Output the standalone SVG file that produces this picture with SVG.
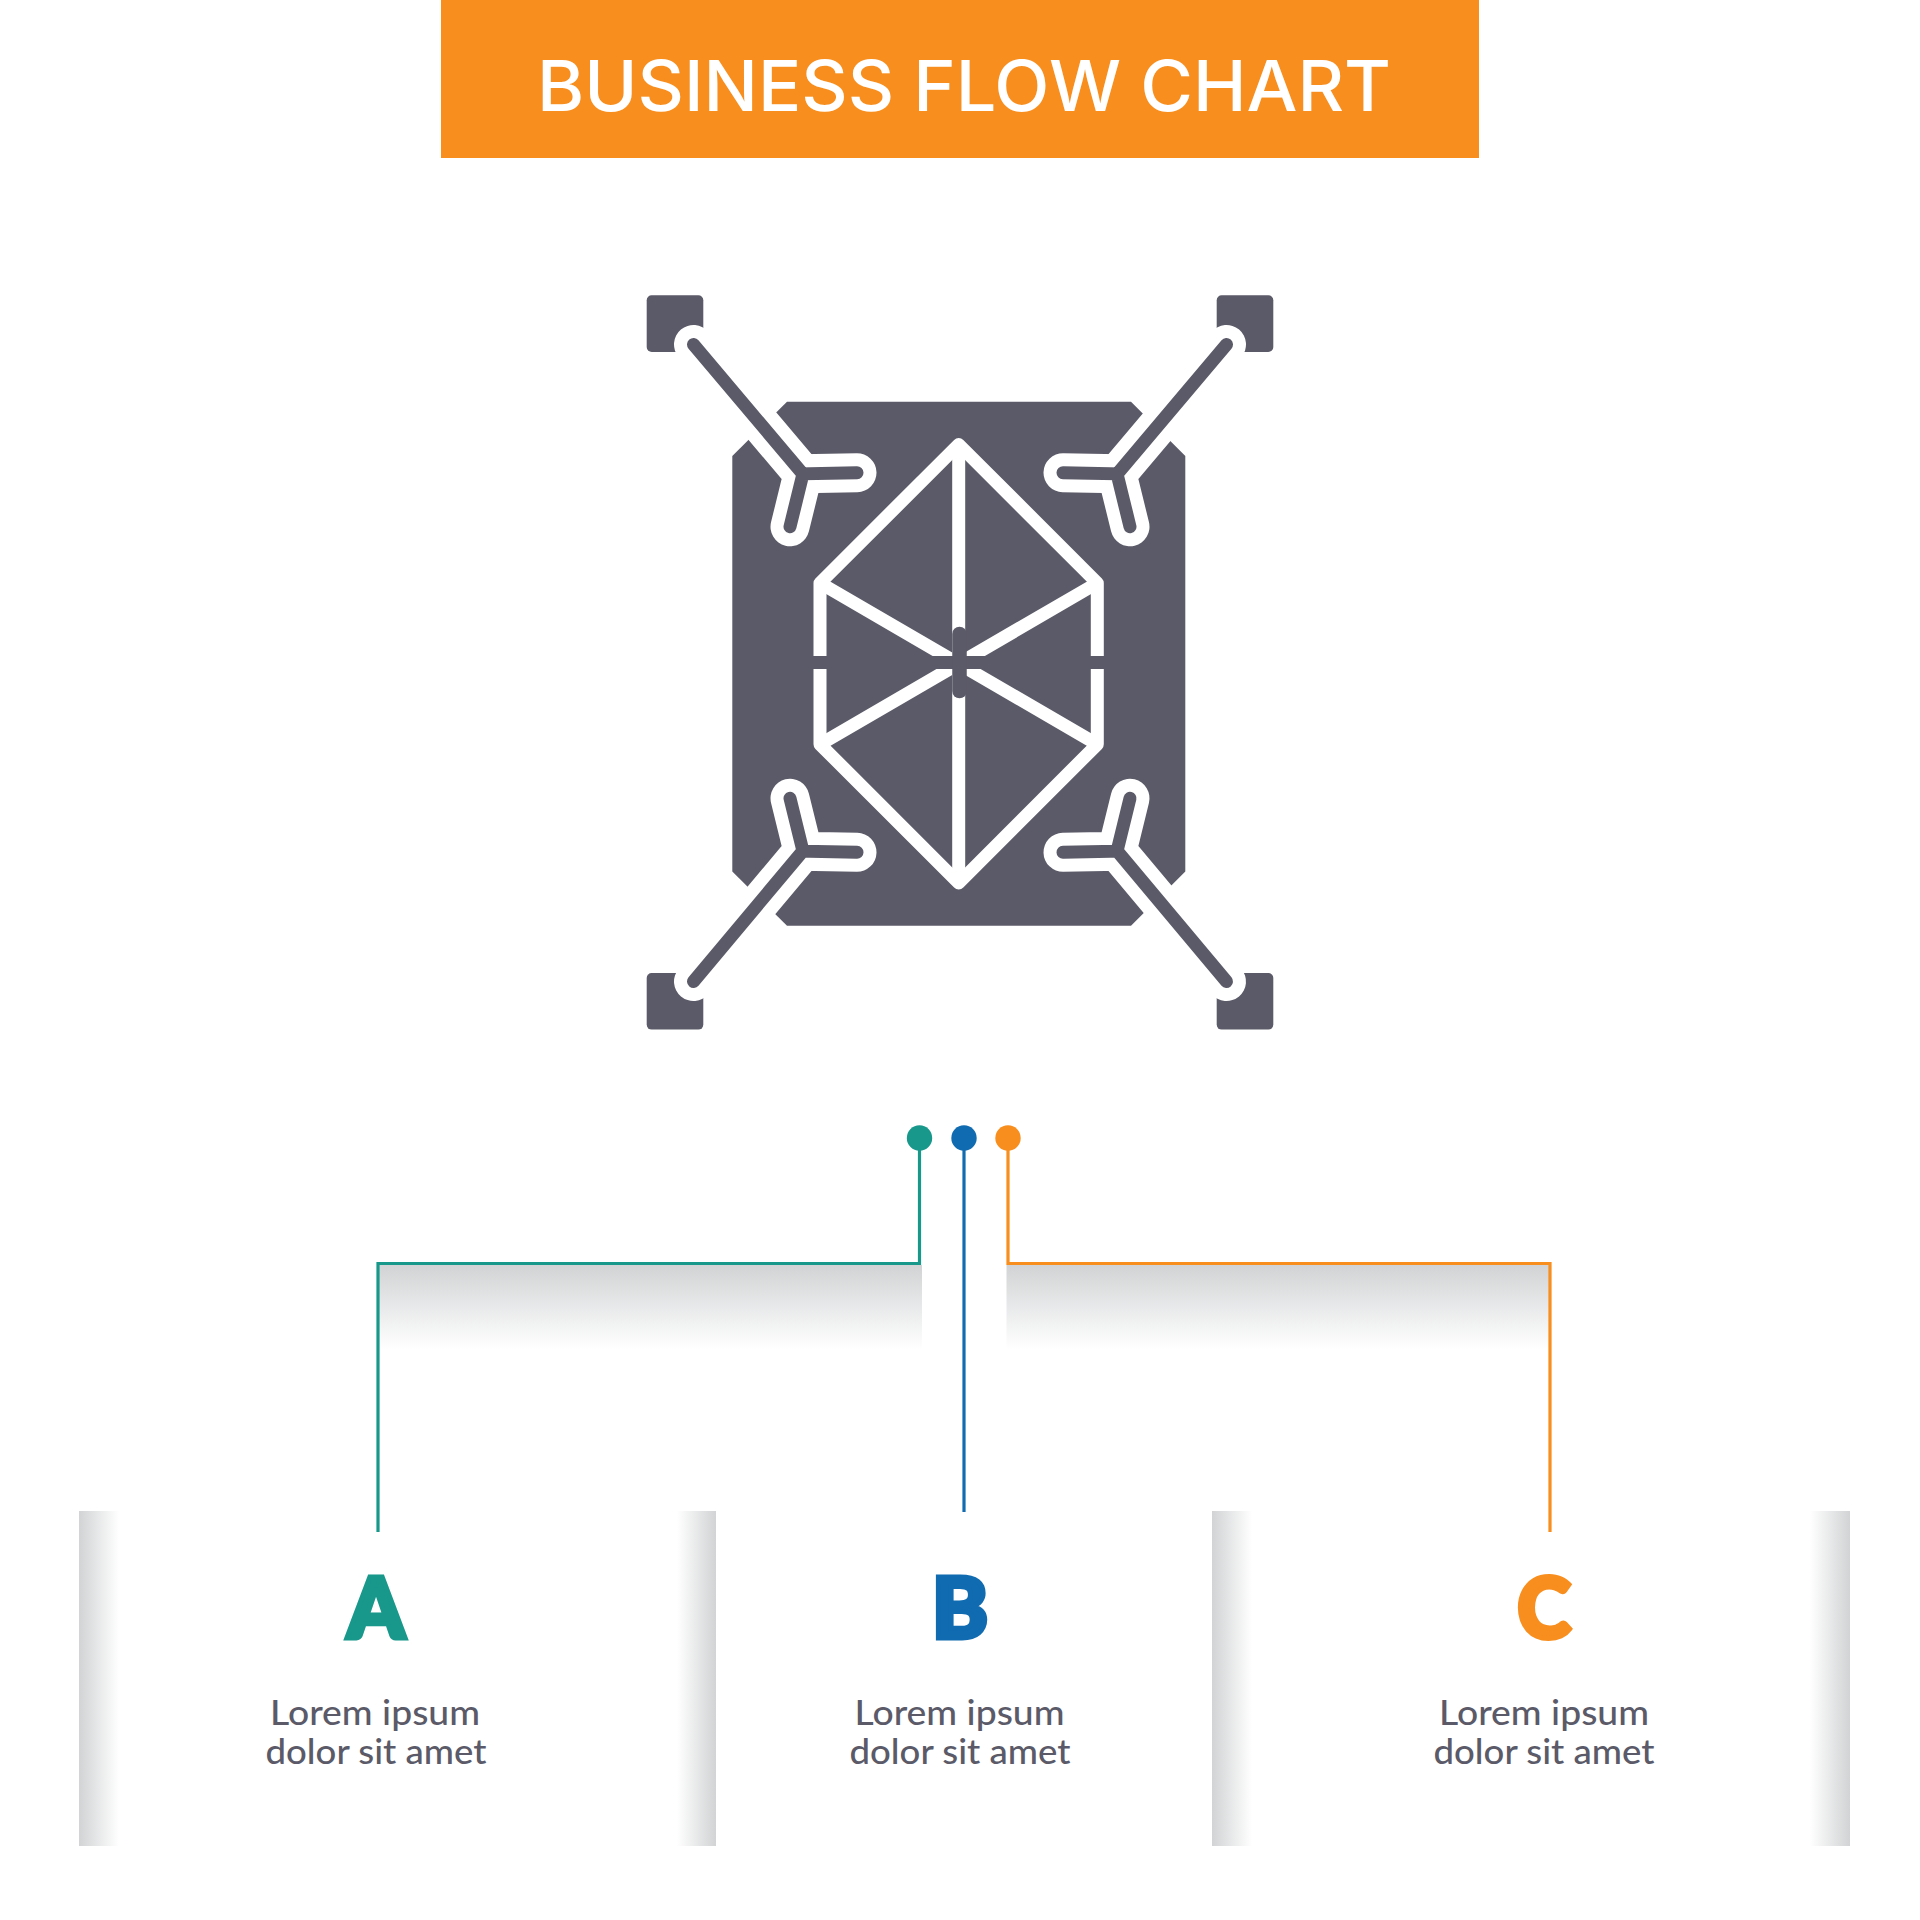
<svg xmlns="http://www.w3.org/2000/svg" width="1920" height="1920" viewBox="0 0 1920 1920">
<style>
.dark{fill:#5b5a68}
.halo{fill:none;stroke:#fff;stroke-width:39;stroke-linecap:round;stroke-linejoin:miter}
.wire{fill:none;stroke:#5b5a68;stroke-width:13;stroke-linecap:round;stroke-linejoin:miter}
.hex{fill:none;stroke:#fff;stroke-width:13;stroke-linejoin:round}
.lab{font-family:"Lato","Liberation Sans",sans-serif;font-weight:900;font-size:84px;stroke-width:5;stroke-linejoin:miter}
.txt{font-family:"Lato","Liberation Sans",sans-serif;font-weight:500;font-size:34px;fill:#5b5a68}
.title{font-family:"Inter","Liberation Sans",sans-serif;font-weight:500;font-size:70px;fill:#fff}
.teal{stroke:#18988b;fill:none;stroke-width:3.2}
.blue{stroke:#116bb0;fill:none;stroke-width:3.2}
.orange{stroke:#f78e1e;fill:none;stroke-width:3.2}
</style>
<defs>
<linearGradient id="gl" x1="0" x2="1" y1="0" y2="0"><stop offset="0" stop-color="#d1d3d4"/><stop offset="1" stop-color="#fff"/></linearGradient>
<linearGradient id="gr" x1="1" x2="0" y1="0" y2="0"><stop offset="0" stop-color="#d1d3d4"/><stop offset="1" stop-color="#fff"/></linearGradient>
<linearGradient id="gd" x1="0" x2="0" y1="0" y2="1"><stop offset="0" stop-color="#d1d3d4"/><stop offset="1" stop-color="#fff"/></linearGradient>
</defs>
<rect width="1920" height="1920" fill="#fff"/>
<g id="header">
<rect x="441" y="0" width="1038" height="158" fill="#f78e1e"/>
<text class="title" x="537" y="111" textLength="854" lengthAdjust="spacingAndGlyphs">BUSINESS FLOW CHART</text>
</g>
<g id="icon">
<rect class="dark" x="646.7" y="295.3" width="56.6" height="56.6" rx="5"/>
<rect class="dark" x="1216.7" y="295.3" width="56.6" height="56.6" rx="5"/>
<rect class="dark" x="646.7" y="973" width="56.6" height="56.6" rx="5"/>
<rect class="dark" x="1216.7" y="973" width="56.6" height="56.6" rx="5"/>
<polygon class="dark" points="787,401.7 1131,401.7 1185.3,456 1185.3,871.5 1131,925.7 787,925.7 732.3,871.5 732.3,456"/>
<path class="hex" d="M958.7,444.5L1097.3,583V744.3L958.7,883L820,744.3V583Z"/>
<path class="hex" d="M958.7,444.5V883M820,583L1097.3,744.3M1097.3,583L820,744.3"/>
<rect class="dark" x="808" y="656" width="302" height="13"/>
<line x1="959.5" y1="634" x2="959.5" y2="691" stroke="#5b5a68" stroke-width="14.5" stroke-linecap="round"/>
<g>
<path class="halo" d="M693.5,344.5L802,473M857,472.7L803,473.8L790,526.7"/>
<path class="halo" d="M1226.5,344.5L1118,473M1063,472.7L1117,473.8L1130,526.7"/>
<path class="halo" d="M693.5,981.5L802,852M857,852.3L803,851.2L790,798.3"/>
<path class="halo" d="M1226.5,981.5L1118,852M1063,852.3L1117,851.2L1130,798.3"/>
<path class="wire" d="M693.5,344.5L802,473M857,472.7L803,473.8L790,526.7"/>
<path class="wire" d="M1226.5,344.5L1118,473M1063,472.7L1117,473.8L1130,526.7"/>
<path class="wire" d="M693.5,981.5L802,852M857,852.3L803,851.2L790,798.3"/>
<path class="wire" d="M1226.5,981.5L1118,852M1063,852.3L1117,851.2L1130,798.3"/>
</g>
</g>
<g id="shades">
<rect x="379" y="1265" width="543" height="84" fill="url(#gd)"/>
<rect x="1006.5" y="1265" width="543" height="84" fill="url(#gd)"/>
</g>
<g id="node-a">
<rect x="79" y="1511" width="40" height="335" fill="url(#gl)"/>
<rect x="677" y="1511" width="39" height="335" fill="url(#gr)"/>
<text class="lab" x="347.5" y="1637.5" fill="#18988b" stroke="#18988b" textLength="57" lengthAdjust="spacingAndGlyphs">A</text>
<text class="txt" x="270" y="1725" textLength="210" lengthAdjust="spacingAndGlyphs">Lorem ipsum</text>
<text class="txt" x="265.5" y="1764" textLength="221" lengthAdjust="spacingAndGlyphs">dolor sit amet</text>
</g>
<g id="node-b">
<text class="lab" x="932" y="1637.5" fill="#116bb0" stroke="#116bb0" textLength="56" lengthAdjust="spacingAndGlyphs">B</text>
<text class="txt" x="854.5" y="1725" textLength="210" lengthAdjust="spacingAndGlyphs">Lorem ipsum</text>
<text class="txt" x="849.5" y="1764" textLength="221" lengthAdjust="spacingAndGlyphs">dolor sit amet</text>
</g>
<g id="node-c">
<rect x="1212" y="1511" width="40" height="335" fill="url(#gl)"/>
<rect x="1810" y="1511" width="40" height="335" fill="url(#gr)"/>
<text class="lab" x="1517.5" y="1637.5" fill="#f78e1e" stroke="#f78e1e" textLength="53" lengthAdjust="spacingAndGlyphs">C</text>
<text class="txt" x="1439" y="1725" textLength="210" lengthAdjust="spacingAndGlyphs">Lorem ipsum</text>
<text class="txt" x="1433.5" y="1764" textLength="221" lengthAdjust="spacingAndGlyphs">dolor sit amet</text>
</g>
<g id="connectors">
<path class="teal" d="M919.5,1138V1263.5H378V1532"/>
<path class="blue" d="M964,1138V1512"/>
<path class="orange" d="M1008,1138V1263.5H1550V1532"/>
<circle cx="919.5" cy="1138" r="12.7" fill="#18988b"/>
<circle cx="964" cy="1138" r="12.7" fill="#116bb0"/>
<circle cx="1008" cy="1138" r="12.7" fill="#f78e1e"/>
</g>
</svg>
